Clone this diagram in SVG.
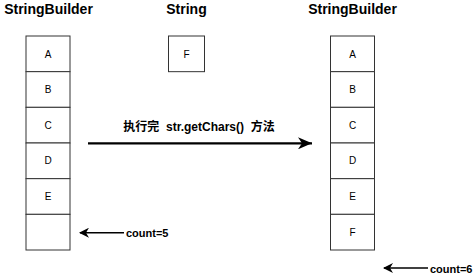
<svg xmlns="http://www.w3.org/2000/svg" width="474" height="278" viewBox="0 0 474 278">
<style>
.cell{fill:#fff;stroke:#333;stroke-width:1}
.ch{font-family:"Liberation Sans",Arial,sans-serif;font-size:10px;fill:#000;text-anchor:middle;dominant-baseline:central}
.title{font-family:"Liberation Sans",Arial,sans-serif;font-size:14px;font-weight:bold;fill:#000;text-anchor:middle}
.lbl{font-family:"Liberation Sans",Arial,"Noto Sans CJK SC",sans-serif;font-size:12px;font-weight:bold;fill:#000}
.cnt{font-family:"Liberation Sans",Arial,sans-serif;font-size:11px;font-weight:bold;fill:#000;dominant-baseline:central}
.edge{stroke:#000;fill:none}
</style>
<defs>
<marker id="ah" markerWidth="10" markerHeight="10" refX="9" refY="5" orient="auto" markerUnits="userSpaceOnUse" viewBox="0 0 10 10">
<path d="M0,0 L10,5 L0,10 L3,5 Z" fill="#000"/>
</marker>
<marker id="ahBig" markerWidth="14" markerHeight="12" refX="14" refY="6" orient="auto" markerUnits="userSpaceOnUse" viewBox="0 0 14 12">
<path d="M0,0 L14,6 L0,12 L4,6 Z" fill="#000"/>
</marker>
</defs>

<g id="title-left"><text class="title" x="48.5" y="14">StringBuilder</text></g>
<g id="title-string"><text class="title" x="186.5" y="14">String</text></g>
<g id="title-right"><text class="title" x="352.5" y="14">StringBuilder</text></g>

<g id="left-stack">
<rect class="cell" x="26" y="36" width="44" height="35.67"/>
<rect class="cell" x="26" y="71.67" width="44" height="35.67"/>
<rect class="cell" x="26" y="107.33" width="44" height="35.67"/>
<rect class="cell" x="26" y="143" width="44" height="35.67"/>
<rect class="cell" x="26" y="178.67" width="44" height="35.67"/>
<rect class="cell" x="26" y="214.33" width="44" height="35.67"/>
<text class="ch" x="48" y="54">A</text>
<text class="ch" x="48" y="89.5">B</text>
<text class="ch" x="48" y="125.2">C</text>
<text class="ch" x="48" y="160.8">D</text>
<text class="ch" x="48" y="196.5">E</text>
</g>

<g id="string-box">
<rect class="cell" x="168.5" y="36" width="36" height="35.67"/>
<text class="ch" x="186.5" y="54">F</text>
</g>

<g id="right-stack">
<rect class="cell" x="330.5" y="36" width="44" height="35.67"/>
<rect class="cell" x="330.5" y="71.67" width="44" height="35.67"/>
<rect class="cell" x="330.5" y="107.33" width="44" height="35.67"/>
<rect class="cell" x="330.5" y="143" width="44" height="35.67"/>
<rect class="cell" x="330.5" y="178.67" width="44" height="35.67"/>
<rect class="cell" x="330.5" y="214.33" width="44" height="35.67"/>
<text class="ch" x="352.5" y="54">A</text>
<text class="ch" x="352.5" y="89.5">B</text>
<text class="ch" x="352.5" y="125.2">C</text>
<text class="ch" x="352.5" y="160.8">D</text>
<text class="ch" x="352.5" y="196.5">E</text>
<text class="ch" x="352.5" y="232.2">F</text>
</g>

<g id="connectors">
<line class="edge" x1="88" y1="143.3" x2="312" y2="143.3" stroke-width="2.2" marker-end="url(#ahBig)"/>
<line class="edge" x1="124" y1="232.7" x2="80" y2="232.7" stroke-width="1.5" marker-end="url(#ah)"/>
<line class="edge" x1="428" y1="268" x2="384" y2="268" stroke-width="1.5" marker-end="url(#ah)"/>
</g>

<g id="labels">
<text class="lbl" x="199" y="131" text-anchor="middle" xml:space="preserve">执行完  str.getChars()  方法</text>
<text class="cnt" x="126" y="233">count=5</text>
<text class="cnt" x="430" y="268.5">count=6</text>
</g>
</svg>
